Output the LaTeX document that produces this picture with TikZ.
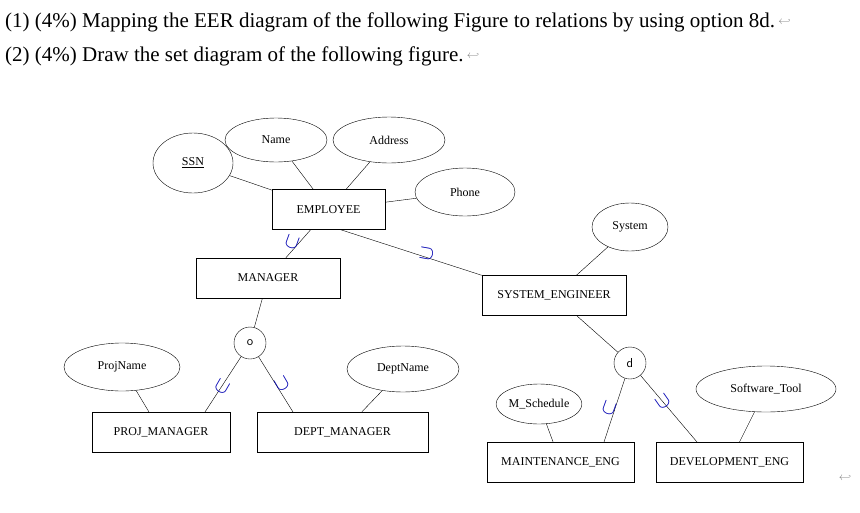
\documentclass[tikz,border=0pt]{standalone}
\usepackage{fontspec}
\setmainfont{Liberation Serif}
\usetikzlibrary{shapes.geometric}
\begin{document}
\begin{tikzpicture}[x=1pt,y=-1pt,
 ent/.style={draw,rectangle,minimum width=#1,minimum height=40,inner sep=0pt,font=\fontsize{12}{14}\selectfont},
 att/.style={draw,ellipse,font=\fontsize{12}{14}\selectfont,inner sep=0pt},
 circ/.style={draw,circle,minimum size=32,inner sep=0pt,font=\fontsize{13}{14}\selectfont\sffamily},
 sub/.style={text=blue!70!black,font=\fontsize{20}{20}\selectfont,inner sep=0pt},
 hdr/.style={anchor=west,font=\fontsize{21}{24}\selectfont,inner sep=0pt},
 ret/.style={text=gray,font=\fontsize{11}{11}\selectfont,inner sep=0pt}]
\useasboundingbox (0,0) rectangle (860,512);
\node[hdr] (h1) at (5,22) {(1) (4\%) Mapping the EER diagram of the following Figure to relations by using option 8d.};
\node[ret,anchor=west] (r1) at ([xshift=3pt]h1.east) {$\hookleftarrow$};
\node[hdr] (h2) at (5,56) {(2) (4\%) Draw the set diagram of the following figure.};
\node[ret,anchor=west] (r2) at ([xshift=3pt]h2.east) {$\hookleftarrow$};
% entities
\node[ent=113] (emp) at (328.5,209.5) {EMPLOYEE};
\node[ent=144] (mgr) at (268,278) {MANAGER};
\node[ent=144] (se) at (554,295.5) {SYSTEM\_ENGINEER};
\node[ent=138] (pm) at (161,432) {PROJ\_MANAGER};
\node[ent=171] (dm) at (342.5,432) {DEPT\_MANAGER};
\node[ent=147] (me) at (560.5,462) {MAINTENANCE\_ENG};
\node[ent=147] (de) at (729.5,462) {DEVELOPMENT\_ENG};
% attributes
\node[att,minimum width=80,minimum height=60] (ssn) at (193,163) {\underline{SSN}};
\node[att,minimum width=102,minimum height=44] (name) at (276,140) {Name};
\node[att,minimum width=112,minimum height=46] (addr) at (389,140) {Address};
\node[att,minimum width=100,minimum height=48] (phone) at (465,192) {Phone};
\node[att,minimum width=76,minimum height=48] (sys) at (630,227) {System};
\node[att,minimum width=116,minimum height=48] (pn) at (122,367) {ProjName};
\node[att,minimum width=112,minimum height=46] (dn) at (403,369) {DeptName};
\node[att,minimum width=140,minimum height=46] (st) at (766,389) {Software\_Tool};
\node[att,minimum width=80,minimum height=40] (ms) at (539,404) {M\_Schedule};
% circles
\node[circ] (o) at (250,343) {o};
\node[circ] (d) at (630,363) {d};
\coordinate (eb) at (340,229.5);
\coordinate (pmt) at (205,412);
\coordinate (dmt) at (293,412);
\coordinate (met) at (604,442);
\coordinate (det) at (697,442);
% lines
\draw (ssn) -- (emp);
\draw (name) -- (emp);
\draw (addr) -- (emp);
\draw (phone) -- (emp);
\draw (sys) -- (se);
\draw (emp) -- (mgr);
\draw (eb) -- (se.north west);
\draw (mgr) -- (o);
\draw (o) -- (pmt);
\draw (o) -- (dmt);
\draw (se) -- (d);
\draw (d) -- (met);
\draw (d) -- (det);
\draw (pn) -- (pm);
\draw (dn) -- (dm);
\draw (ms) -- (me);
\draw (st) -- (de);
% subset marks
\node[sub,rotate=-20] (s1) at (292,242) {$\cup$};
\node[sub,rotate=80] (s2) at (427,254) {$\cup$};
\node[sub,rotate=-30] (s3) at (222,387) {$\cup$};
\node[sub,rotate=30] (s4) at (282,384) {$\cup$};
\node[sub,rotate=-20] (s5) at (609,408) {$\cup$};
\node[sub,rotate=35] (s6) at (663,402) {$\cup$};
\node[ret] (ret) at (845,478) {$\hookleftarrow$};
\end{tikzpicture}
\end{document}
